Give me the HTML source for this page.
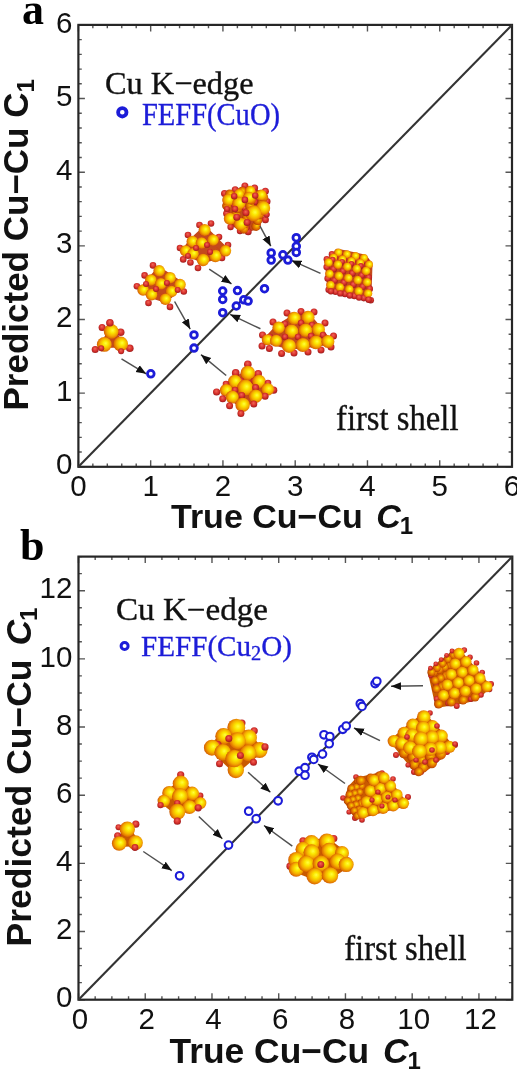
<!DOCTYPE html>
<html><head><meta charset="utf-8"><style>
html,body{margin:0;padding:0;background:#fff;}
svg{display:block;}
.tk{font-family:"Liberation Sans",Arial,sans-serif;font-size:29.5px;fill:#111;}
.lab{font-family:"Liberation Sans",Arial,sans-serif;font-size:33px;font-weight:bold;fill:#111;}
.ser{font-family:"Liberation Serif","Times New Roman",serif;font-size:32px;fill:#111;stroke:#111;stroke-width:0.35px;}
.pl{font-family:"Liberation Serif","Times New Roman",serif;font-size:44px;font-weight:bold;fill:#000;}
</style></head><body>
<svg width="520" height="1072" viewBox="0 0 520 1072">
<defs>
<radialGradient id="cu" cx="0.55" cy="0.48" r="0.58" fx="0.6" fy="0.42"><stop offset="0" stop-color="#ffff40"/><stop offset="0.3" stop-color="#fbe600"/><stop offset="0.62" stop-color="#f4ac00"/><stop offset="0.88" stop-color="#de6c00"/><stop offset="1" stop-color="#b44600"/></radialGradient>
<radialGradient id="cd" cx="0.55" cy="0.48" r="0.58" fx="0.6" fy="0.42"><stop offset="0" stop-color="#f8d800"/><stop offset="0.3" stop-color="#f0a000"/><stop offset="0.7" stop-color="#d86000"/><stop offset="1" stop-color="#a03800"/></radialGradient>
<radialGradient id="ox" cx="0.5" cy="0.45" r="0.6" fx="0.45" fy="0.35"><stop offset="0" stop-color="#f06858"/><stop offset="0.55" stop-color="#d8302c"/><stop offset="1" stop-color="#901818"/></radialGradient>
<marker id="ah" viewBox="0 0 10 10" refX="10" refY="5" markerWidth="10" markerHeight="10" markerUnits="userSpaceOnUse" orient="auto"><path d="M0 1L10 5L0 9z" fill="#111"/></marker>
<filter id="sf" x="-10%" y="-10%" width="120%" height="120%"><feGaussianBlur stdDeviation="0.4"/></filter>
</defs>
<path d="M78.40 466.80v-6.5M78.40 24.90v6.5M78.40 466.80h6.5M512.00 466.80h-6.5M92.85 466.80v-3.4M92.85 24.90v3.4M78.40 452.07h3.4M512.00 452.07h-3.4M107.31 466.80v-3.4M107.31 24.90v3.4M78.40 437.34h3.4M512.00 437.34h-3.4M121.76 466.80v-3.4M121.76 24.90v3.4M78.40 422.61h3.4M512.00 422.61h-3.4M136.21 466.80v-3.4M136.21 24.90v3.4M78.40 407.88h3.4M512.00 407.88h-3.4M150.67 466.80v-6.5M150.67 24.90v6.5M78.40 393.15h6.5M512.00 393.15h-6.5M165.12 466.80v-3.4M165.12 24.90v3.4M78.40 378.42h3.4M512.00 378.42h-3.4M179.57 466.80v-3.4M179.57 24.90v3.4M78.40 363.69h3.4M512.00 363.69h-3.4M194.03 466.80v-3.4M194.03 24.90v3.4M78.40 348.96h3.4M512.00 348.96h-3.4M208.48 466.80v-3.4M208.48 24.90v3.4M78.40 334.23h3.4M512.00 334.23h-3.4M222.93 466.80v-6.5M222.93 24.90v6.5M78.40 319.50h6.5M512.00 319.50h-6.5M237.39 466.80v-3.4M237.39 24.90v3.4M78.40 304.77h3.4M512.00 304.77h-3.4M251.84 466.80v-3.4M251.84 24.90v3.4M78.40 290.04h3.4M512.00 290.04h-3.4M266.29 466.80v-3.4M266.29 24.90v3.4M78.40 275.31h3.4M512.00 275.31h-3.4M280.75 466.80v-3.4M280.75 24.90v3.4M78.40 260.58h3.4M512.00 260.58h-3.4M295.20 466.80v-6.5M295.20 24.90v6.5M78.40 245.85h6.5M512.00 245.85h-6.5M309.65 466.80v-3.4M309.65 24.90v3.4M78.40 231.12h3.4M512.00 231.12h-3.4M324.11 466.80v-3.4M324.11 24.90v3.4M78.40 216.39h3.4M512.00 216.39h-3.4M338.56 466.80v-3.4M338.56 24.90v3.4M78.40 201.66h3.4M512.00 201.66h-3.4M353.01 466.80v-3.4M353.01 24.90v3.4M78.40 186.93h3.4M512.00 186.93h-3.4M367.47 466.80v-6.5M367.47 24.90v6.5M78.40 172.20h6.5M512.00 172.20h-6.5M381.92 466.80v-3.4M381.92 24.90v3.4M78.40 157.47h3.4M512.00 157.47h-3.4M396.37 466.80v-3.4M396.37 24.90v3.4M78.40 142.74h3.4M512.00 142.74h-3.4M410.83 466.80v-3.4M410.83 24.90v3.4M78.40 128.01h3.4M512.00 128.01h-3.4M425.28 466.80v-3.4M425.28 24.90v3.4M78.40 113.28h3.4M512.00 113.28h-3.4M439.73 466.80v-6.5M439.73 24.90v6.5M78.40 98.55h6.5M512.00 98.55h-6.5M454.19 466.80v-3.4M454.19 24.90v3.4M78.40 83.82h3.4M512.00 83.82h-3.4M468.64 466.80v-3.4M468.64 24.90v3.4M78.40 69.09h3.4M512.00 69.09h-3.4M483.09 466.80v-3.4M483.09 24.90v3.4M78.40 54.36h3.4M512.00 54.36h-3.4M497.55 466.80v-3.4M497.55 24.90v3.4M78.40 39.63h3.4M512.00 39.63h-3.4M512.00 466.80v-6.5M512.00 24.90v6.5M78.40 24.90h6.5M512.00 24.90h-6.5" stroke="#555" stroke-width="1.4" fill="none"/>
<rect x="78.4" y="24.9" width="433.60" height="441.90" fill="none" stroke="#262626" stroke-width="2.2"/>
<line x1="78.4" y1="466.8" x2="512.0" y2="24.9" stroke="#333" stroke-width="2.1"/>
<text class="tk" x="78.4" y="496" text-anchor="middle">0</text>
<text class="tk" x="72.3" y="474.4" text-anchor="end">0</text>
<text class="tk" x="150.7" y="496" text-anchor="middle">1</text>
<text class="tk" x="72.3" y="400.8" text-anchor="end">1</text>
<text class="tk" x="222.9" y="496" text-anchor="middle">2</text>
<text class="tk" x="72.3" y="327.1" text-anchor="end">2</text>
<text class="tk" x="295.2" y="496" text-anchor="middle">3</text>
<text class="tk" x="72.3" y="253.4" text-anchor="end">3</text>
<text class="tk" x="367.5" y="496" text-anchor="middle">4</text>
<text class="tk" x="72.3" y="179.8" text-anchor="end">4</text>
<text class="tk" x="439.7" y="496" text-anchor="middle">5</text>
<text class="tk" x="72.3" y="106.2" text-anchor="end">5</text>
<text class="tk" x="512.0" y="496" text-anchor="middle">6</text>
<text class="tk" x="72.3" y="32.5" text-anchor="end">6</text>
<path d="M78.50 999.70v-6.5M78.50 556.60v6.5M78.50 999.70h6.5M512.30 999.70h-6.5M95.18 999.70v-3.4M95.18 556.60v3.4M78.50 982.66h3.4M512.30 982.66h-3.4M111.87 999.70v-3.4M111.87 556.60v3.4M78.50 965.62h3.4M512.30 965.62h-3.4M128.55 999.70v-3.4M128.55 556.60v3.4M78.50 948.57h3.4M512.30 948.57h-3.4M145.24 999.70v-6.5M145.24 556.60v6.5M78.50 931.53h6.5M512.30 931.53h-6.5M161.92 999.70v-3.4M161.92 556.60v3.4M78.50 914.49h3.4M512.30 914.49h-3.4M178.61 999.70v-3.4M178.61 556.60v3.4M78.50 897.45h3.4M512.30 897.45h-3.4M195.29 999.70v-3.4M195.29 556.60v3.4M78.50 880.40h3.4M512.30 880.40h-3.4M211.98 999.70v-6.5M211.98 556.60v6.5M78.50 863.36h6.5M512.30 863.36h-6.5M228.66 999.70v-3.4M228.66 556.60v3.4M78.50 846.32h3.4M512.30 846.32h-3.4M245.35 999.70v-3.4M245.35 556.60v3.4M78.50 829.28h3.4M512.30 829.28h-3.4M262.03 999.70v-3.4M262.03 556.60v3.4M78.50 812.23h3.4M512.30 812.23h-3.4M278.72 999.70v-6.5M278.72 556.60v6.5M78.50 795.19h6.5M512.30 795.19h-6.5M295.40 999.70v-3.4M295.40 556.60v3.4M78.50 778.15h3.4M512.30 778.15h-3.4M312.08 999.70v-3.4M312.08 556.60v3.4M78.50 761.11h3.4M512.30 761.11h-3.4M328.77 999.70v-3.4M328.77 556.60v3.4M78.50 744.07h3.4M512.30 744.07h-3.4M345.45 999.70v-6.5M345.45 556.60v6.5M78.50 727.02h6.5M512.30 727.02h-6.5M362.14 999.70v-3.4M362.14 556.60v3.4M78.50 709.98h3.4M512.30 709.98h-3.4M378.82 999.70v-3.4M378.82 556.60v3.4M78.50 692.94h3.4M512.30 692.94h-3.4M395.51 999.70v-3.4M395.51 556.60v3.4M78.50 675.90h3.4M512.30 675.90h-3.4M412.19 999.70v-6.5M412.19 556.60v6.5M78.50 658.85h6.5M512.30 658.85h-6.5M428.88 999.70v-3.4M428.88 556.60v3.4M78.50 641.81h3.4M512.30 641.81h-3.4M445.56 999.70v-3.4M445.56 556.60v3.4M78.50 624.77h3.4M512.30 624.77h-3.4M462.25 999.70v-3.4M462.25 556.60v3.4M78.50 607.73h3.4M512.30 607.73h-3.4M478.93 999.70v-6.5M478.93 556.60v6.5M78.50 590.68h6.5M512.30 590.68h-6.5M495.62 999.70v-3.4M495.62 556.60v3.4M78.50 573.64h3.4M512.30 573.64h-3.4M512.30 999.70v-3.4M512.30 556.60v3.4M78.50 556.60h3.4M512.30 556.60h-3.4" stroke="#555" stroke-width="1.4" fill="none"/>
<rect x="78.5" y="556.6" width="433.80" height="443.10" fill="none" stroke="#262626" stroke-width="2.2"/>
<line x1="78.5" y1="999.7" x2="512.3" y2="556.6" stroke="#333" stroke-width="2.1"/>
<text class="tk" x="80.0" y="1028.5" text-anchor="middle">0</text>
<text class="tk" x="72.3" y="1007.3" text-anchor="end">0</text>
<text class="tk" x="146.7" y="1028.5" text-anchor="middle">2</text>
<text class="tk" x="72.3" y="939.1" text-anchor="end">2</text>
<text class="tk" x="213.5" y="1028.5" text-anchor="middle">4</text>
<text class="tk" x="72.3" y="871.0" text-anchor="end">4</text>
<text class="tk" x="280.2" y="1028.5" text-anchor="middle">6</text>
<text class="tk" x="72.3" y="802.8" text-anchor="end">6</text>
<text class="tk" x="347.0" y="1028.5" text-anchor="middle">8</text>
<text class="tk" x="72.3" y="734.6" text-anchor="end">8</text>
<text class="tk" x="413.7" y="1028.5" text-anchor="middle">10</text>
<text class="tk" x="72.3" y="666.5" text-anchor="end">10</text>
<text class="tk" x="480.4" y="1028.5" text-anchor="middle">12</text>
<text class="tk" x="72.3" y="598.3" text-anchor="end">12</text>
<text class="pl" x="22" y="24">a</text>
<text class="pl" x="20" y="560">b</text>
<text class="lab" x="171" y="528" style="font-size:34px">True Cu−Cu <tspan font-style="italic" dx="4">C</tspan><tspan font-size="24" dy="6" dx="-1">1</tspan></text>
<text class="lab" x="169.5" y="1063" style="font-size:35.4px">True Cu−Cu <tspan font-style="italic" dx="4">C</tspan><tspan font-size="24" dy="6" dx="-1">1</tspan></text>
<text class="lab" style="font-size:35px" transform="translate(27.5,410.5) rotate(-90)">Predicted Cu−Cu C<tspan font-size="24" dy="6">1</tspan></text>
<text class="lab" style="font-size:35.5px" transform="translate(31,946.5) rotate(-90)">Predicted Cu−Cu <tspan font-style="italic" dx="4">C</tspan><tspan font-size="24" dy="6" dx="-1">1</tspan></text>
<text class="ser" x="105" y="93.5" textLength="148.5" lengthAdjust="spacingAndGlyphs">Cu K−edge</text>
<text class="ser" x="142" y="125.3" textLength="138" lengthAdjust="spacingAndGlyphs" style="fill:#1c1cd8;font-size:31px;stroke:#1c1cd8;stroke-width:0.35px">FEFF(CuO)</text>
<text class="ser" x="336" y="430.3" textLength="122.5" lengthAdjust="spacingAndGlyphs" style="font-size:36px">first shell</text>
<text class="ser" x="344.2" y="959.6" textLength="122.5" lengthAdjust="spacingAndGlyphs" style="font-size:36px">first shell</text>
<text class="ser" x="116" y="620.1" textLength="152" lengthAdjust="spacingAndGlyphs" style="font-size:31px">Cu K−edge</text>
<text class="ser" x="141" y="655.5" textLength="151" lengthAdjust="spacingAndGlyphs" style="fill:#1c1cd8;font-size:30px;stroke:#1c1cd8;stroke-width:0.35px">FEFF(Cu<tspan font-size="21" dy="4">2</tspan><tspan dy="-4">O)</tspan></text>
<circle cx="122.3" cy="112.3" r="4.2" fill="none" stroke="#1c1cd8" stroke-width="3.8"/>
<circle cx="124.6" cy="646" r="3.5" fill="none" stroke="#1c1cd8" stroke-width="3.0"/>
<g filter="url(#sf)">
<polygon points="104.3,344.4 111.2,331.4 120.7,344" fill="#c4481a" stroke="#c4481a" stroke-width="7" stroke-linejoin="round"/>
<circle cx="102.1" cy="327.5" r="3.5" fill="url(#ox)"/>
<circle cx="120.7" cy="332.3" r="3.8" fill="url(#ox)"/>
<circle cx="95.2" cy="349.6" r="3.5" fill="url(#ox)"/>
<circle cx="129.8" cy="348.3" r="3.8" fill="url(#ox)"/>
<circle cx="111.2" cy="331.4" r="7.4" fill="url(#cu)"/>
<circle cx="104.3" cy="344.4" r="7.4" fill="url(#cu)"/>
<circle cx="120.7" cy="344.0" r="7.4" fill="url(#cu)"/>
<circle cx="109.9" cy="322.8" r="3.8" fill="url(#ox)"/>
<circle cx="101.2" cy="348.3" r="3" fill="url(#ox)"/>
<circle cx="121.1" cy="351.3" r="3" fill="url(#ox)"/>
</g>
<g filter="url(#sf)">
<polygon points="143.1,290 150.8,280 159.2,270.8 170,277.7 180,284.6 165.4,299.2 151.5,294.6" fill="#c4481a" stroke="#c4481a" stroke-width="7" stroke-linejoin="round"/>
<circle cx="153.0" cy="265.4" r="3.3" fill="url(#ox)"/>
<circle cx="144.6" cy="275.4" r="3.3" fill="url(#ox)"/>
<circle cx="136.9" cy="286.2" r="3.3" fill="url(#ox)"/>
<circle cx="148.5" cy="303.0" r="3.3" fill="url(#ox)"/>
<circle cx="170.0" cy="306.9" r="3.3" fill="url(#ox)"/>
<circle cx="183.8" cy="291.5" r="3.3" fill="url(#ox)"/>
<circle cx="159.2" cy="270.8" r="5.8" fill="url(#cu)"/>
<circle cx="150.8" cy="280.0" r="5.8" fill="url(#cu)"/>
<circle cx="170.0" cy="277.7" r="5.8" fill="url(#cu)"/>
<circle cx="143.1" cy="290.0" r="5.8" fill="url(#cu)"/>
<circle cx="160.8" cy="283.8" r="5.8" fill="url(#cu)"/>
<circle cx="180.0" cy="284.6" r="5.8" fill="url(#cu)"/>
<circle cx="151.5" cy="294.6" r="5.8" fill="url(#cu)"/>
<circle cx="171.5" cy="291.5" r="5.8" fill="url(#cu)"/>
<circle cx="165.4" cy="299.2" r="5.8" fill="url(#cu)"/>
<circle cx="166.9" cy="283.0" r="3" fill="url(#ox)"/>
<circle cx="177.7" cy="290.0" r="3" fill="url(#ox)"/>
<circle cx="156.0" cy="289.0" r="3" fill="url(#ox)"/>
<circle cx="146.0" cy="284.0" r="3" fill="url(#ox)"/>
</g>
<g filter="url(#sf)">
<polygon points="185.4,250.8 192.3,241.5 204.6,230 225.4,250.8 215.4,256 203,260" fill="#c4481a" stroke="#c4481a" stroke-width="7" stroke-linejoin="round"/>
<circle cx="199.5" cy="225.0" r="3.3" fill="url(#ox)"/>
<circle cx="211.0" cy="223.5" r="3.3" fill="url(#ox)"/>
<circle cx="188.0" cy="235.0" r="3.3" fill="url(#ox)"/>
<circle cx="219.0" cy="237.0" r="3.3" fill="url(#ox)"/>
<circle cx="180.0" cy="248.0" r="3.3" fill="url(#ox)"/>
<circle cx="228.0" cy="245.0" r="3.3" fill="url(#ox)"/>
<circle cx="183.2" cy="259.4" r="3.3" fill="url(#ox)"/>
<circle cx="190.4" cy="262.5" r="3.3" fill="url(#ox)"/>
<circle cx="198.0" cy="268.0" r="3.3" fill="url(#ox)"/>
<circle cx="222.0" cy="258.0" r="3.3" fill="url(#ox)"/>
<circle cx="204.6" cy="230.0" r="6" fill="url(#cu)"/>
<circle cx="192.3" cy="241.5" r="5.8" fill="url(#cu)"/>
<circle cx="201.5" cy="243.0" r="5.8" fill="url(#cu)"/>
<circle cx="213.0" cy="240.0" r="5.8" fill="url(#cu)"/>
<circle cx="185.4" cy="250.8" r="5.6" fill="url(#cu)"/>
<circle cx="193.0" cy="253.8" r="5.8" fill="url(#cu)"/>
<circle cx="203.0" cy="260.0" r="6.2" fill="url(#cu)"/>
<circle cx="215.4" cy="256.0" r="6.2" fill="url(#cu)"/>
<circle cx="225.4" cy="250.8" r="5.8" fill="url(#cu)"/>
<circle cx="207.0" cy="245.0" r="3" fill="url(#ox)"/>
<circle cx="196.0" cy="248.0" r="3" fill="url(#ox)"/>
<circle cx="210.0" cy="252.0" r="3" fill="url(#ox)"/>
<circle cx="188.0" cy="256.0" r="3" fill="url(#ox)"/>
</g>
<g filter="url(#sf)">
<polygon points="226.7,205.7 229.7,194.1 242.0,191.3 250.3,190.8 261.1,195.1 263.6,197.3 263.2,208 256.1,226.3 243.8,229.1 229.8,218.8" fill="#c4481a" stroke="#c4481a" stroke-width="7" stroke-linejoin="round"/>
<circle cx="224.5" cy="193.5" r="3.5" fill="url(#ox)"/>
<circle cx="235.2" cy="189.7" r="3.5" fill="url(#ox)"/>
<circle cx="244.9" cy="185.9" r="3.5" fill="url(#ox)"/>
<circle cx="254.6" cy="188.1" r="3.5" fill="url(#ox)"/>
<circle cx="265.4" cy="191.3" r="3.5" fill="url(#ox)"/>
<circle cx="267.0" cy="201.5" r="3.5" fill="url(#ox)"/>
<circle cx="226.6" cy="213.4" r="3.5" fill="url(#ox)"/>
<circle cx="248.2" cy="231.7" r="3.5" fill="url(#ox)"/>
<circle cx="257.3" cy="225.8" r="3.5" fill="url(#ox)"/>
<circle cx="265.4" cy="219.8" r="3.5" fill="url(#ox)"/>
<circle cx="230.6" cy="227.0" r="3.2" fill="url(#ox)"/>
<circle cx="240.0" cy="231.0" r="3.2" fill="url(#ox)"/>
<circle cx="233.5" cy="196.0" r="3.1" fill="url(#ox)"/>
<circle cx="234.3" cy="205.5" r="3.1" fill="url(#ox)"/>
<circle cx="235.1" cy="215.0" r="3.1" fill="url(#ox)"/>
<circle cx="235.9" cy="224.5" r="3.1" fill="url(#ox)"/>
<circle cx="243.5" cy="189.5" r="3.1" fill="url(#ox)"/>
<circle cx="244.3" cy="199.0" r="3.1" fill="url(#ox)"/>
<circle cx="245.1" cy="208.5" r="3.1" fill="url(#ox)"/>
<circle cx="245.9" cy="218.0" r="3.1" fill="url(#ox)"/>
<circle cx="246.7" cy="227.5" r="3.1" fill="url(#ox)"/>
<circle cx="254.3" cy="192.5" r="3.1" fill="url(#ox)"/>
<circle cx="255.1" cy="202.0" r="3.1" fill="url(#ox)"/>
<circle cx="255.9" cy="211.5" r="3.1" fill="url(#ox)"/>
<circle cx="256.7" cy="221.0" r="3.1" fill="url(#ox)"/>
<circle cx="265.9" cy="205.0" r="3.1" fill="url(#ox)"/>
<circle cx="266.7" cy="214.5" r="3.1" fill="url(#ox)"/>
<circle cx="226.7" cy="205.7" r="4.6" fill="url(#cd)"/>
<circle cx="228.2" cy="199.9" r="4.6" fill="url(#cd)"/>
<circle cx="229.7" cy="194.1" r="4.6" fill="url(#cd)"/>
<circle cx="234.5" cy="220.3" r="4.6" fill="url(#cd)"/>
<circle cx="236.0" cy="214.5" r="4.6" fill="url(#cd)"/>
<circle cx="237.5" cy="208.7" r="4.6" fill="url(#cd)"/>
<circle cx="239.0" cy="202.9" r="4.6" fill="url(#cd)"/>
<circle cx="240.5" cy="197.1" r="4.6" fill="url(#cd)"/>
<circle cx="242.0" cy="191.3" r="4.6" fill="url(#cd)"/>
<circle cx="243.8" cy="229.1" r="4.6" fill="url(#cd)"/>
<circle cx="245.3" cy="223.3" r="4.6" fill="url(#cd)"/>
<circle cx="246.8" cy="217.5" r="4.6" fill="url(#cd)"/>
<circle cx="248.3" cy="211.7" r="4.6" fill="url(#cd)"/>
<circle cx="249.8" cy="205.9" r="4.6" fill="url(#cd)"/>
<circle cx="251.3" cy="200.1" r="4.6" fill="url(#cd)"/>
<circle cx="252.8" cy="194.3" r="4.6" fill="url(#cd)"/>
<circle cx="256.1" cy="226.3" r="4.6" fill="url(#cd)"/>
<circle cx="257.6" cy="220.5" r="4.6" fill="url(#cd)"/>
<circle cx="259.1" cy="214.7" r="4.6" fill="url(#cd)"/>
<circle cx="260.6" cy="208.9" r="4.6" fill="url(#cd)"/>
<circle cx="262.1" cy="203.1" r="4.6" fill="url(#cd)"/>
<circle cx="263.6" cy="197.3" r="4.6" fill="url(#cd)"/>
<circle cx="239.0" cy="194.0" r="5" fill="url(#cu)"/>
<circle cx="250.3" cy="190.8" r="5" fill="url(#cu)"/>
<circle cx="228.2" cy="199.9" r="6" fill="url(#cu)"/>
<circle cx="249.2" cy="197.8" r="6" fill="url(#cu)"/>
<circle cx="261.1" cy="195.1" r="5.5" fill="url(#cu)"/>
<circle cx="239.0" cy="203.2" r="6.5" fill="url(#cu)"/>
<circle cx="244.9" cy="199.9" r="3.3" fill="url(#ox)"/>
<circle cx="234.2" cy="196.2" r="3.2" fill="url(#ox)"/>
<circle cx="255.2" cy="195.6" r="3.2" fill="url(#ox)"/>
<circle cx="229.8" cy="218.8" r="6" fill="url(#cu)"/>
<circle cx="240.6" cy="224.2" r="6.5" fill="url(#cu)"/>
<circle cx="263.2" cy="208.0" r="7" fill="url(#cu)"/>
<circle cx="253.5" cy="213.4" r="8" fill="url(#cu)"/>
<circle cx="246.0" cy="212.8" r="3.5" fill="url(#ox)"/>
<circle cx="236.8" cy="217.2" r="3.5" fill="url(#ox)"/>
<circle cx="247.1" cy="222.5" r="3.5" fill="url(#ox)"/>
<circle cx="235.0" cy="209.0" r="3.2" fill="url(#ox)"/>
<circle cx="227.0" cy="209.0" r="3" fill="url(#ox)"/>
</g>
<g filter="url(#sf)">
<polygon points="328.4,262.5 338.2,252.5 346.8,254.3 363.9,257.9 369.0,264.6 368.0,293.5 330.4,285.1" fill="#c4481a" stroke="#c4481a" stroke-width="7" stroke-linejoin="round"/>
<circle cx="340.0" cy="255.9" r="3.2" fill="url(#ox)"/>
<circle cx="348.6" cy="257.7" r="3.2" fill="url(#ox)"/>
<circle cx="357.1" cy="259.5" r="3.2" fill="url(#ox)"/>
<circle cx="365.7" cy="261.2" r="3.2" fill="url(#ox)"/>
<circle cx="331.9" cy="254.2" r="3.2" fill="url(#ox)"/>
<circle cx="338.2" cy="252.5" r="4.0" fill="url(#cu)"/>
<circle cx="346.8" cy="254.3" r="4.0" fill="url(#cu)"/>
<circle cx="355.3" cy="256.1" r="4.0" fill="url(#cu)"/>
<circle cx="363.9" cy="257.9" r="4.0" fill="url(#cu)"/>
<circle cx="335.3" cy="260.9" r="3.2" fill="url(#ox)"/>
<circle cx="344.2" cy="262.7" r="3.2" fill="url(#ox)"/>
<circle cx="353.2" cy="264.5" r="3.2" fill="url(#ox)"/>
<circle cx="362.1" cy="266.2" r="3.2" fill="url(#ox)"/>
<circle cx="326.8" cy="259.2" r="3.2" fill="url(#ox)"/>
<circle cx="333.3" cy="257.5" r="4.0" fill="url(#cu)"/>
<circle cx="342.2" cy="259.3" r="4.0" fill="url(#cu)"/>
<circle cx="351.2" cy="261.1" r="4.0" fill="url(#cu)"/>
<circle cx="360.1" cy="262.9" r="4.0" fill="url(#cu)"/>
<circle cx="369.0" cy="264.6" r="4.0" fill="url(#cu)"/>
<circle cx="326.7" cy="267.1" r="3.3" fill="url(#ox)"/>
<circle cx="333.6" cy="269.2" r="3.3" fill="url(#ox)"/>
<circle cx="343.0" cy="271.3" r="3.3" fill="url(#ox)"/>
<circle cx="352.4" cy="273.4" r="3.3" fill="url(#ox)"/>
<circle cx="361.8" cy="275.5" r="3.3" fill="url(#ox)"/>
<circle cx="368.7" cy="277.6" r="3.3" fill="url(#ox)"/>
<circle cx="327.7" cy="278.4" r="3.3" fill="url(#ox)"/>
<circle cx="334.6" cy="280.5" r="3.3" fill="url(#ox)"/>
<circle cx="344.0" cy="282.6" r="3.3" fill="url(#ox)"/>
<circle cx="353.4" cy="284.7" r="3.3" fill="url(#ox)"/>
<circle cx="362.8" cy="286.8" r="3.3" fill="url(#ox)"/>
<circle cx="369.7" cy="288.9" r="3.3" fill="url(#ox)"/>
<circle cx="328.7" cy="289.7" r="3.3" fill="url(#ox)"/>
<circle cx="335.6" cy="291.8" r="3.3" fill="url(#ox)"/>
<circle cx="345.0" cy="293.9" r="3.3" fill="url(#ox)"/>
<circle cx="354.4" cy="296.0" r="3.3" fill="url(#ox)"/>
<circle cx="363.8" cy="298.1" r="3.3" fill="url(#ox)"/>
<circle cx="370.7" cy="300.2" r="3.3" fill="url(#ox)"/>
<circle cx="332.7" cy="259.6" r="2.8" fill="url(#ox)"/>
<circle cx="342.1" cy="261.7" r="2.8" fill="url(#ox)"/>
<circle cx="351.5" cy="263.8" r="2.8" fill="url(#ox)"/>
<circle cx="360.9" cy="265.9" r="2.8" fill="url(#ox)"/>
<circle cx="328.4" cy="262.5" r="4.3" fill="url(#cu)"/>
<circle cx="337.8" cy="264.6" r="4.3" fill="url(#cu)"/>
<circle cx="347.2" cy="266.7" r="4.3" fill="url(#cu)"/>
<circle cx="356.6" cy="268.8" r="4.3" fill="url(#cu)"/>
<circle cx="366.0" cy="270.9" r="4.3" fill="url(#cu)"/>
<circle cx="329.4" cy="273.8" r="4.3" fill="url(#cu)"/>
<circle cx="338.8" cy="275.9" r="4.3" fill="url(#cu)"/>
<circle cx="348.2" cy="278.0" r="4.3" fill="url(#cu)"/>
<circle cx="357.6" cy="280.1" r="4.3" fill="url(#cu)"/>
<circle cx="367.0" cy="282.2" r="4.3" fill="url(#cu)"/>
<circle cx="330.4" cy="285.1" r="4.3" fill="url(#cu)"/>
<circle cx="339.8" cy="287.2" r="4.3" fill="url(#cu)"/>
<circle cx="349.2" cy="289.3" r="4.3" fill="url(#cu)"/>
<circle cx="358.6" cy="291.4" r="4.3" fill="url(#cu)"/>
<circle cx="368.0" cy="293.5" r="4.3" fill="url(#cu)"/>
<circle cx="330.9" cy="291.3" r="3.2" fill="url(#ox)"/>
<circle cx="340.3" cy="293.4" r="3.2" fill="url(#ox)"/>
<circle cx="349.8" cy="295.5" r="3.2" fill="url(#ox)"/>
<circle cx="359.1" cy="297.6" r="3.2" fill="url(#ox)"/>
<circle cx="368.6" cy="299.7" r="3.2" fill="url(#ox)"/>
</g>
<g filter="url(#sf)">
<polygon points="267.3,339.8 278.6,327.7 294.1,318.2 308,317.3 318.4,329.4 327.9,341.5 302.8,345 289,345.9" fill="#c4481a" stroke="#c4481a" stroke-width="7" stroke-linejoin="round"/>
<circle cx="287.0" cy="313.0" r="3.5" fill="url(#ox)"/>
<circle cx="301.0" cy="311.5" r="3.5" fill="url(#ox)"/>
<circle cx="314.0" cy="312.0" r="3.5" fill="url(#ox)"/>
<circle cx="273.0" cy="322.0" r="3.5" fill="url(#ox)"/>
<circle cx="325.0" cy="323.0" r="3.5" fill="url(#ox)"/>
<circle cx="262.5" cy="335.0" r="3.5" fill="url(#ox)"/>
<circle cx="333.5" cy="336.0" r="3.5" fill="url(#ox)"/>
<circle cx="262.0" cy="346.0" r="3.5" fill="url(#ox)"/>
<circle cx="269.4" cy="348.5" r="3.5" fill="url(#ox)"/>
<circle cx="281.6" cy="353.4" r="3.5" fill="url(#ox)"/>
<circle cx="294.0" cy="353.0" r="3.5" fill="url(#ox)"/>
<circle cx="308.0" cy="352.0" r="3.5" fill="url(#ox)"/>
<circle cx="321.0" cy="350.0" r="3.5" fill="url(#ox)"/>
<circle cx="331.0" cy="347.0" r="3.5" fill="url(#ox)"/>
<circle cx="294.1" cy="318.2" r="6.5" fill="url(#cu)"/>
<circle cx="308.0" cy="317.3" r="6.5" fill="url(#cu)"/>
<circle cx="301.0" cy="323.0" r="3.2" fill="url(#ox)"/>
<circle cx="285.0" cy="324.0" r="3.2" fill="url(#ox)"/>
<circle cx="312.0" cy="325.0" r="3.2" fill="url(#ox)"/>
<circle cx="278.6" cy="327.7" r="6.2" fill="url(#cu)"/>
<circle cx="291.5" cy="331.2" r="6.8" fill="url(#cu)"/>
<circle cx="305.4" cy="330.3" r="6.8" fill="url(#cu)"/>
<circle cx="318.4" cy="329.4" r="6.5" fill="url(#cu)"/>
<circle cx="298.0" cy="337.0" r="3.2" fill="url(#ox)"/>
<circle cx="285.0" cy="337.0" r="3.2" fill="url(#ox)"/>
<circle cx="311.0" cy="336.0" r="3.2" fill="url(#ox)"/>
<circle cx="323.0" cy="335.0" r="3.2" fill="url(#ox)"/>
<circle cx="270.0" cy="337.0" r="3.2" fill="url(#ox)"/>
<circle cx="267.3" cy="339.8" r="5.5" fill="url(#cu)"/>
<circle cx="276.0" cy="340.7" r="6" fill="url(#cu)"/>
<circle cx="289.0" cy="345.9" r="7" fill="url(#cu)"/>
<circle cx="302.8" cy="345.0" r="7" fill="url(#cu)"/>
<circle cx="315.8" cy="342.4" r="6.8" fill="url(#cu)"/>
<circle cx="327.9" cy="341.5" r="6.5" fill="url(#cu)"/>
</g>
<g filter="url(#sf)">
<polygon points="226.2,390.2 234.8,381.5 247.8,372.9 259,381.5 267.7,389.3 242.6,404.9 232.2,397.1" fill="#c4481a" stroke="#c4481a" stroke-width="7" stroke-linejoin="round"/>
<circle cx="247.8" cy="364.2" r="3.8" fill="url(#ox)"/>
<circle cx="235.7" cy="372.9" r="3.8" fill="url(#ox)"/>
<circle cx="258.2" cy="373.7" r="3.8" fill="url(#ox)"/>
<circle cx="216.6" cy="392.0" r="3.6" fill="url(#ox)"/>
<circle cx="273.7" cy="390.2" r="3.6" fill="url(#ox)"/>
<circle cx="247.8" cy="372.9" r="7.2" fill="url(#cu)"/>
<circle cx="241.0" cy="381.0" r="3.3" fill="url(#ox)"/>
<circle cx="254.0" cy="381.0" r="3.3" fill="url(#ox)"/>
<circle cx="234.8" cy="381.5" r="6.8" fill="url(#cu)"/>
<circle cx="259.0" cy="381.5" r="6.8" fill="url(#cu)"/>
<circle cx="226.0" cy="384.0" r="3.3" fill="url(#ox)"/>
<circle cx="268.0" cy="383.0" r="3.3" fill="url(#ox)"/>
<circle cx="226.2" cy="390.2" r="6.3" fill="url(#cu)"/>
<circle cx="267.7" cy="389.3" r="6.3" fill="url(#cu)"/>
<circle cx="245.2" cy="387.6" r="8" fill="url(#cu)"/>
<circle cx="241.7" cy="395.4" r="3.5" fill="url(#ox)"/>
<circle cx="255.6" cy="387.6" r="3.5" fill="url(#ox)"/>
<circle cx="235.0" cy="390.0" r="3.3" fill="url(#ox)"/>
<circle cx="222.7" cy="398.8" r="3.5" fill="url(#ox)"/>
<circle cx="265.1" cy="396.2" r="3.5" fill="url(#ox)"/>
<circle cx="232.2" cy="397.1" r="6.5" fill="url(#cu)"/>
<circle cx="255.6" cy="396.2" r="6.8" fill="url(#cu)"/>
<circle cx="229.6" cy="405.8" r="3.5" fill="url(#ox)"/>
<circle cx="253.8" cy="404.0" r="3.5" fill="url(#ox)"/>
<circle cx="242.6" cy="404.9" r="7.2" fill="url(#cu)"/>
<circle cx="240.9" cy="413.6" r="3.5" fill="url(#ox)"/>
</g>
<g filter="url(#sf)">
<polygon points="119.2,843.5 127.3,829.2 135.4,842.7" fill="#c85a00" stroke="#c85a00" stroke-width="7" stroke-linejoin="round"/>
<circle cx="118.5" cy="827.3" r="3" fill="url(#ox)"/>
<circle cx="135.8" cy="824.2" r="3.6" fill="url(#ox)"/>
<circle cx="117.7" cy="835.8" r="3.6" fill="url(#ox)"/>
<circle cx="127.3" cy="829.2" r="7.7" fill="url(#cu)"/>
<circle cx="119.2" cy="843.5" r="7.3" fill="url(#cu)"/>
<circle cx="135.4" cy="842.7" r="7.5" fill="url(#cu)"/>
<circle cx="135.0" cy="847.5" r="3.4" fill="url(#ox)"/>
</g>
<g filter="url(#sf)">
<polygon points="163.8,801 169.2,793 180.7,783.6 192.1,793.6 200.2,803.1 177.3,811.8" fill="#c85a00" stroke="#c85a00" stroke-width="7" stroke-linejoin="round"/>
<circle cx="180.7" cy="774.8" r="3.6" fill="url(#ox)"/>
<circle cx="200.2" cy="795.7" r="3.2" fill="url(#ox)"/>
<circle cx="180.7" cy="783.6" r="8" fill="url(#cu)"/>
<circle cx="169.2" cy="793.0" r="7" fill="url(#cu)"/>
<circle cx="192.1" cy="793.6" r="7" fill="url(#cu)"/>
<circle cx="163.8" cy="801.0" r="6.2" fill="url(#cu)"/>
<circle cx="200.2" cy="803.1" r="6.2" fill="url(#cu)"/>
<circle cx="180.0" cy="796.3" r="8" fill="url(#cu)"/>
<circle cx="160.5" cy="805.1" r="3.2" fill="url(#ox)"/>
<circle cx="177.3" cy="803.1" r="3.2" fill="url(#ox)"/>
<circle cx="189.4" cy="807.1" r="7" fill="url(#cu)"/>
<circle cx="177.3" cy="811.8" r="8" fill="url(#cu)"/>
<circle cx="198.2" cy="807.8" r="3.6" fill="url(#ox)"/>
<circle cx="177.3" cy="821.2" r="3.6" fill="url(#ox)"/>
</g>
<g filter="url(#sf)">
<polygon points="211.9,747.7 223.5,736.2 236.3,727.7 248.8,737.7 259.6,750 235.8,770" fill="#c85a00" stroke="#c85a00" stroke-width="7" stroke-linejoin="round"/>
<circle cx="241.9" cy="723.1" r="3.6" fill="url(#ox)"/>
<circle cx="254.2" cy="730.8" r="3.6" fill="url(#ox)"/>
<circle cx="236.3" cy="727.7" r="9" fill="url(#cu)"/>
<circle cx="223.5" cy="736.2" r="8.2" fill="url(#cu)"/>
<circle cx="248.8" cy="737.7" r="8.2" fill="url(#cu)"/>
<circle cx="218.0" cy="744.6" r="3.5" fill="url(#ox)"/>
<circle cx="211.9" cy="747.7" r="8" fill="url(#cu)"/>
<circle cx="259.6" cy="750.0" r="8" fill="url(#cu)"/>
<circle cx="237.3" cy="740.8" r="8.5" fill="url(#cu)"/>
<circle cx="228.8" cy="738.5" r="3.5" fill="url(#ox)"/>
<circle cx="265.0" cy="746.9" r="3.6" fill="url(#ox)"/>
<circle cx="222.7" cy="752.3" r="8.3" fill="url(#cu)"/>
<circle cx="248.1" cy="753.1" r="8.3" fill="url(#cu)"/>
<circle cx="219.5" cy="763.7" r="3.5" fill="url(#ox)"/>
<circle cx="253.5" cy="762.3" r="3.5" fill="url(#ox)"/>
<circle cx="235.8" cy="770.0" r="8.2" fill="url(#cu)"/>
<circle cx="234.2" cy="758.5" r="8.8" fill="url(#cu)"/>
<circle cx="240.4" cy="755.4" r="3.5" fill="url(#ox)"/>
</g>
<g filter="url(#sf)">
<polygon points="296.2,860 303,849.2 311.5,843.1 326.9,841.5 342,853 346.2,864.6 330,875.4 314.6,876.2 296.2,869.2" fill="#c85a00" stroke="#c85a00" stroke-width="7" stroke-linejoin="round"/>
<circle cx="303.0" cy="840.8" r="3.6" fill="url(#ox)"/>
<circle cx="333.8" cy="838.5" r="3.6" fill="url(#ox)"/>
<circle cx="290.0" cy="866.2" r="3.6" fill="url(#ox)"/>
<circle cx="347.7" cy="860.8" r="3.6" fill="url(#ox)"/>
<circle cx="311.5" cy="843.1" r="8" fill="url(#cu)"/>
<circle cx="326.9" cy="841.5" r="8" fill="url(#cu)"/>
<circle cx="303.0" cy="849.2" r="7.5" fill="url(#cu)"/>
<circle cx="311.5" cy="852.3" r="8" fill="url(#cu)"/>
<circle cx="329.2" cy="850.8" r="8" fill="url(#cu)"/>
<circle cx="342.0" cy="853.0" r="7" fill="url(#cu)"/>
<circle cx="296.2" cy="860.0" r="8" fill="url(#cu)"/>
<circle cx="296.2" cy="869.2" r="7.5" fill="url(#cu)"/>
<circle cx="337.7" cy="861.5" r="8" fill="url(#cu)"/>
<circle cx="346.2" cy="864.6" r="7.5" fill="url(#cu)"/>
<circle cx="306.2" cy="863.8" r="8.2" fill="url(#cu)"/>
<circle cx="320.8" cy="863.8" r="8.2" fill="url(#cu)"/>
<circle cx="320.8" cy="864.6" r="3.5" fill="url(#ox)"/>
<circle cx="314.6" cy="876.2" r="8.2" fill="url(#cu)"/>
<circle cx="330.0" cy="875.4" r="8.2" fill="url(#cu)"/>
</g>
<g filter="url(#sf)">
<polygon points="347.6,800.8 349.4,794.6 351.2,788.4 358.0,781.0 379.8,776 383.8,777.9 390.3,786.1 403.3,803.3 357.2,815.8" fill="#c85a00" stroke="#c85a00" stroke-width="7" stroke-linejoin="round"/>
<circle cx="356.0" cy="777.0" r="2.8" fill="url(#ox)"/>
<circle cx="382.0" cy="773.0" r="2.8" fill="url(#ox)"/>
<circle cx="393.0" cy="779.0" r="2.8" fill="url(#ox)"/>
<circle cx="408.0" cy="797.0" r="3" fill="url(#ox)"/>
<circle cx="343.0" cy="798.0" r="2.8" fill="url(#ox)"/>
<circle cx="355.0" cy="818.0" r="3" fill="url(#ox)"/>
<circle cx="362.0" cy="820.0" r="2.8" fill="url(#ox)"/>
<circle cx="349.0" cy="812.0" r="2.6" fill="url(#ox)"/>
<circle cx="358.0" cy="781.0" r="3.8" fill="url(#cd)"/>
<circle cx="361.2" cy="786.0" r="3.8" fill="url(#cd)"/>
<circle cx="356.2" cy="787.2" r="3.8" fill="url(#cd)"/>
<circle cx="351.2" cy="788.4" r="3.8" fill="url(#cd)"/>
<circle cx="359.4" cy="792.2" r="3.8" fill="url(#cd)"/>
<circle cx="354.4" cy="793.4" r="3.8" fill="url(#cd)"/>
<circle cx="349.4" cy="794.6" r="3.8" fill="url(#cd)"/>
<circle cx="357.6" cy="798.4" r="3.8" fill="url(#cd)"/>
<circle cx="352.6" cy="799.6" r="3.8" fill="url(#cd)"/>
<circle cx="347.6" cy="800.8" r="3.8" fill="url(#cd)"/>
<circle cx="360.8" cy="803.4" r="3.8" fill="url(#cd)"/>
<circle cx="355.8" cy="804.6" r="3.8" fill="url(#cd)"/>
<circle cx="350.8" cy="805.8" r="3.8" fill="url(#cd)"/>
<circle cx="359.0" cy="809.6" r="3.8" fill="url(#cd)"/>
<circle cx="354.0" cy="810.8" r="3.8" fill="url(#cd)"/>
<circle cx="357.2" cy="815.8" r="3.8" fill="url(#cd)"/>
<circle cx="360.6" cy="780.6" r="4.8" fill="url(#cd)"/>
<circle cx="370.6" cy="778.3" r="4.8" fill="url(#cd)"/>
<circle cx="379.8" cy="776.0" r="4.8" fill="url(#cd)"/>
<circle cx="362.9" cy="812.9" r="5.8" fill="url(#cu)"/>
<circle cx="373.0" cy="810.5" r="5.8" fill="url(#cu)"/>
<circle cx="383.1" cy="808.1" r="5.8" fill="url(#cu)"/>
<circle cx="393.2" cy="805.7" r="5.8" fill="url(#cu)"/>
<circle cx="403.3" cy="803.3" r="5.8" fill="url(#cu)"/>
<circle cx="366.5" cy="801.9" r="5.8" fill="url(#cu)"/>
<circle cx="376.6" cy="799.5" r="5.8" fill="url(#cu)"/>
<circle cx="386.7" cy="797.1" r="5.8" fill="url(#cu)"/>
<circle cx="396.8" cy="794.7" r="5.8" fill="url(#cu)"/>
<circle cx="370.1" cy="790.9" r="5.8" fill="url(#cu)"/>
<circle cx="380.2" cy="788.5" r="5.8" fill="url(#cu)"/>
<circle cx="390.3" cy="786.1" r="5.8" fill="url(#cu)"/>
<circle cx="373.7" cy="780.3" r="5.8" fill="url(#cu)"/>
<circle cx="383.8" cy="777.9" r="5.8" fill="url(#cu)"/>
<circle cx="378.0" cy="792.0" r="2.6" fill="url(#ox)"/>
<circle cx="372.0" cy="800.0" r="2.6" fill="url(#ox)"/>
<circle cx="388.0" cy="797.0" r="2.6" fill="url(#ox)"/>
<circle cx="382.0" cy="806.0" r="2.6" fill="url(#ox)"/>
<circle cx="395.0" cy="800.0" r="2.6" fill="url(#ox)"/>
</g>
<g filter="url(#sf)">
<polygon points="393.8,741.1 412.8,725 423.7,717 441.3,736 449.3,746.9 431.8,763 418.6,771.8" fill="#c85a00" stroke="#c85a00" stroke-width="7" stroke-linejoin="round"/>
<circle cx="430.0" cy="713.0" r="2.8" fill="url(#ox)"/>
<circle cx="396.0" cy="755.0" r="3" fill="url(#ox)"/>
<circle cx="414.0" cy="772.0" r="3" fill="url(#ox)"/>
<circle cx="421.0" cy="772.0" r="3" fill="url(#ox)"/>
<circle cx="447.0" cy="752.0" r="3" fill="url(#ox)"/>
<circle cx="455.0" cy="745.0" r="3" fill="url(#ox)"/>
<circle cx="404.0" cy="752.8" r="5.5" fill="url(#cd)"/>
<circle cx="412.8" cy="757.2" r="5.5" fill="url(#cd)"/>
<circle cx="421.5" cy="760.1" r="5.5" fill="url(#cd)"/>
<circle cx="430.3" cy="756.4" r="5.5" fill="url(#cd)"/>
<circle cx="440.6" cy="754.2" r="5.5" fill="url(#cd)"/>
<circle cx="414.2" cy="764.5" r="5.2" fill="url(#cd)"/>
<circle cx="423.0" cy="767.4" r="5.2" fill="url(#cd)"/>
<circle cx="431.8" cy="763.0" r="5.2" fill="url(#cd)"/>
<circle cx="418.6" cy="771.8" r="4.5" fill="url(#cd)"/>
<circle cx="425.0" cy="762.0" r="2.8" fill="url(#ox)"/>
<circle cx="436.0" cy="760.0" r="2.8" fill="url(#ox)"/>
<circle cx="416.0" cy="760.0" r="2.6" fill="url(#ox)"/>
<circle cx="408.0" cy="765.0" r="2.6" fill="url(#ox)"/>
<circle cx="423.7" cy="717.0" r="6.8" fill="url(#cu)"/>
<circle cx="412.8" cy="725.0" r="6.5" fill="url(#cu)"/>
<circle cx="432.5" cy="726.5" r="6.5" fill="url(#cu)"/>
<circle cx="423.0" cy="728.0" r="7" fill="url(#cu)"/>
<circle cx="404.0" cy="733.0" r="6.3" fill="url(#cu)"/>
<circle cx="441.3" cy="736.0" r="6.5" fill="url(#cu)"/>
<circle cx="412.0" cy="735.2" r="6.8" fill="url(#cu)"/>
<circle cx="431.8" cy="737.4" r="7" fill="url(#cu)"/>
<circle cx="420.8" cy="738.9" r="7.3" fill="url(#cu)"/>
<circle cx="393.8" cy="741.1" r="6.2" fill="url(#cu)"/>
<circle cx="449.3" cy="746.9" r="6.2" fill="url(#cu)"/>
<circle cx="401.8" cy="743.3" r="6.5" fill="url(#cu)"/>
<circle cx="439.8" cy="747.7" r="6.8" fill="url(#cu)"/>
<circle cx="409.9" cy="747.7" r="6.8" fill="url(#cu)"/>
<circle cx="430.3" cy="749.1" r="7" fill="url(#cu)"/>
<circle cx="419.4" cy="751.3" r="7.3" fill="url(#cu)"/>
<circle cx="437.0" cy="726.0" r="2.8" fill="url(#ox)"/>
<circle cx="407.0" cy="737.0" r="2.8" fill="url(#ox)"/>
<circle cx="432.0" cy="750.0" r="2.8" fill="url(#ox)"/>
<circle cx="455.0" cy="744.0" r="2.8" fill="url(#ox)"/>
</g>
<g filter="url(#sf)">
<polygon points="431.4,672.2 454.0,654.0 458.9,653.4 479.9,678.3 486.9,686.6 475,697 463,700 451,702 438.5,704" fill="#c85a00" stroke="#c85a00" stroke-width="7" stroke-linejoin="round"/>
<circle cx="464.3" cy="650.1" r="2.8" fill="url(#ox)"/>
<circle cx="470.0" cy="657.2" r="2.8" fill="url(#ox)"/>
<circle cx="476.5" cy="663.0" r="2.8" fill="url(#ox)"/>
<circle cx="482.2" cy="672.5" r="2.8" fill="url(#ox)"/>
<circle cx="491.0" cy="684.0" r="3" fill="url(#ox)"/>
<circle cx="489.5" cy="689.5" r="2.8" fill="url(#ox)"/>
<circle cx="431.0" cy="675.4" r="2.8" fill="url(#ox)"/>
<circle cx="436.0" cy="684.7" r="2.8" fill="url(#ox)"/>
<circle cx="436.8" cy="699.0" r="3" fill="url(#ox)"/>
<circle cx="448.2" cy="703.2" r="3" fill="url(#ox)"/>
<circle cx="456.7" cy="706.0" r="3" fill="url(#ox)"/>
<circle cx="471.0" cy="699.0" r="3" fill="url(#ox)"/>
<circle cx="481.0" cy="695.0" r="2.8" fill="url(#ox)"/>
<circle cx="454.0" cy="654.0" r="4.2" fill="url(#cd)"/>
<circle cx="449.9" cy="664.8" r="4.2" fill="url(#cd)"/>
<circle cx="444.4" cy="667.3" r="4.2" fill="url(#cd)"/>
<circle cx="438.9" cy="669.8" r="4.2" fill="url(#cd)"/>
<circle cx="433.4" cy="672.3" r="4.2" fill="url(#cd)"/>
<circle cx="451.3" cy="673.1" r="4.2" fill="url(#cd)"/>
<circle cx="445.8" cy="675.6" r="4.2" fill="url(#cd)"/>
<circle cx="440.3" cy="678.1" r="4.2" fill="url(#cd)"/>
<circle cx="434.8" cy="680.6" r="4.2" fill="url(#cd)"/>
<circle cx="447.2" cy="683.9" r="4.2" fill="url(#cd)"/>
<circle cx="441.7" cy="686.4" r="4.2" fill="url(#cd)"/>
<circle cx="436.2" cy="688.9" r="4.2" fill="url(#cd)"/>
<circle cx="443.1" cy="694.7" r="4.2" fill="url(#cd)"/>
<circle cx="438.5" cy="704.0" r="4.5" fill="url(#cd)"/>
<circle cx="451.0" cy="702.0" r="4.5" fill="url(#cd)"/>
<circle cx="463.0" cy="700.0" r="4.5" fill="url(#cd)"/>
<circle cx="475.0" cy="697.0" r="4.5" fill="url(#cd)"/>
<circle cx="453.0" cy="655.0" r="4.0" fill="url(#cd)"/>
<circle cx="447.6" cy="659.3" r="4.0" fill="url(#cd)"/>
<circle cx="442.2" cy="663.6" r="4.0" fill="url(#cd)"/>
<circle cx="436.8" cy="667.9" r="4.0" fill="url(#cd)"/>
<circle cx="431.4" cy="672.2" r="4.0" fill="url(#cd)"/>
<circle cx="452.0" cy="651.0" r="2.4" fill="url(#ox)"/>
<circle cx="446.6" cy="655.3" r="2.4" fill="url(#ox)"/>
<circle cx="441.2" cy="659.6" r="2.4" fill="url(#ox)"/>
<circle cx="435.8" cy="663.9" r="2.4" fill="url(#ox)"/>
<circle cx="430.4" cy="668.2" r="2.4" fill="url(#ox)"/>
<circle cx="458.9" cy="653.4" r="5.6" fill="url(#cu)"/>
<circle cx="455.0" cy="663.9" r="5.6" fill="url(#cu)"/>
<circle cx="465.9" cy="661.7" r="5.6" fill="url(#cu)"/>
<circle cx="451.1" cy="674.4" r="5.6" fill="url(#cu)"/>
<circle cx="462.0" cy="672.2" r="5.6" fill="url(#cu)"/>
<circle cx="472.9" cy="670.0" r="5.6" fill="url(#cu)"/>
<circle cx="447.2" cy="684.9" r="5.6" fill="url(#cu)"/>
<circle cx="458.1" cy="682.7" r="5.6" fill="url(#cu)"/>
<circle cx="469.0" cy="680.5" r="5.6" fill="url(#cu)"/>
<circle cx="479.9" cy="678.3" r="5.6" fill="url(#cu)"/>
<circle cx="443.3" cy="695.4" r="5.6" fill="url(#cu)"/>
<circle cx="454.2" cy="693.2" r="5.6" fill="url(#cu)"/>
<circle cx="465.1" cy="691.0" r="5.6" fill="url(#cu)"/>
<circle cx="476.0" cy="688.8" r="5.6" fill="url(#cu)"/>
<circle cx="486.9" cy="686.6" r="5.6" fill="url(#cu)"/>
</g>
<line x1="121.5" y1="358.9" x2="146.2" y2="373.8" stroke="#505050" stroke-width="1.5" marker-end="url(#ah)"/>
<line x1="174.6" y1="301.5" x2="190.2" y2="329.1" stroke="#505050" stroke-width="1.5" marker-end="url(#ah)"/>
<line x1="209.2" y1="269.2" x2="231.5" y2="283.8" stroke="#505050" stroke-width="1.5" marker-end="url(#ah)"/>
<line x1="260" y1="226.2" x2="270.8" y2="246.2" stroke="#505050" stroke-width="1.5" marker-end="url(#ah)"/>
<line x1="320.5" y1="273.4" x2="291.5" y2="260.4" stroke="#505050" stroke-width="1.5" marker-end="url(#ah)"/>
<line x1="260.4" y1="328.8" x2="230.1" y2="314.4" stroke="#505050" stroke-width="1.5" marker-end="url(#ah)"/>
<line x1="226.2" y1="375.5" x2="201" y2="354.7" stroke="#505050" stroke-width="1.5" marker-end="url(#ah)"/>
<line x1="143.3" y1="851.5" x2="171.8" y2="870.6" stroke="#505050" stroke-width="1.5" marker-end="url(#ah)"/>
<line x1="198.8" y1="816.5" x2="222.3" y2="838.8" stroke="#505050" stroke-width="1.5" marker-end="url(#ah)"/>
<line x1="248.1" y1="772.3" x2="270.4" y2="792.3" stroke="#505050" stroke-width="1.5" marker-end="url(#ah)"/>
<line x1="292.3" y1="846.2" x2="264" y2="825.5" stroke="#505050" stroke-width="1.5" marker-end="url(#ah)"/>
<line x1="345" y1="783.5" x2="318" y2="764" stroke="#505050" stroke-width="1.5" marker-end="url(#ah)"/>
<line x1="380" y1="740.7" x2="354" y2="728" stroke="#505050" stroke-width="1.5" marker-end="url(#ah)"/>
<line x1="423" y1="685.8" x2="391" y2="686.3" stroke="#505050" stroke-width="1.5" marker-end="url(#ah)"/>
<circle cx="150.8" cy="373.8" r="3.35" fill="#fff" stroke="#1c1cd8" stroke-width="2.8"/>
<circle cx="194.0" cy="334.9" r="3.35" fill="#fff" stroke="#1c1cd8" stroke-width="2.8"/>
<circle cx="194.0" cy="348.1" r="3.35" fill="#fff" stroke="#1c1cd8" stroke-width="2.8"/>
<circle cx="222.7" cy="291.0" r="3.35" fill="#fff" stroke="#1c1cd8" stroke-width="2.8"/>
<circle cx="222.7" cy="299.4" r="3.35" fill="#fff" stroke="#1c1cd8" stroke-width="2.8"/>
<circle cx="222.7" cy="312.7" r="3.35" fill="#fff" stroke="#1c1cd8" stroke-width="2.8"/>
<circle cx="237.5" cy="290.6" r="3.35" fill="#fff" stroke="#1c1cd8" stroke-width="2.8"/>
<circle cx="236.3" cy="306.0" r="3.35" fill="#fff" stroke="#1c1cd8" stroke-width="2.8"/>
<circle cx="243.8" cy="299.8" r="3.35" fill="#fff" stroke="#1c1cd8" stroke-width="2.8"/>
<circle cx="248.1" cy="301.1" r="3.35" fill="#fff" stroke="#1c1cd8" stroke-width="2.8"/>
<circle cx="264.5" cy="288.7" r="3.35" fill="#fff" stroke="#1c1cd8" stroke-width="2.8"/>
<circle cx="271.2" cy="252.9" r="3.35" fill="#fff" stroke="#1c1cd8" stroke-width="2.8"/>
<circle cx="271.2" cy="260.1" r="3.35" fill="#fff" stroke="#1c1cd8" stroke-width="2.8"/>
<circle cx="282.9" cy="254.8" r="3.35" fill="#fff" stroke="#1c1cd8" stroke-width="2.8"/>
<circle cx="287.9" cy="260.1" r="3.35" fill="#fff" stroke="#1c1cd8" stroke-width="2.8"/>
<circle cx="296.3" cy="237.7" r="3.35" fill="#fff" stroke="#1c1cd8" stroke-width="2.8"/>
<circle cx="296.3" cy="246.3" r="3.35" fill="#fff" stroke="#1c1cd8" stroke-width="2.8"/>
<circle cx="296.3" cy="252.4" r="3.35" fill="#fff" stroke="#1c1cd8" stroke-width="2.8"/>
<circle cx="179.6" cy="875.8" r="3.8" fill="#fff" stroke="#1c1cd8" stroke-width="2.1"/>
<circle cx="228.5" cy="845.1" r="3.8" fill="#fff" stroke="#1c1cd8" stroke-width="2.1"/>
<circle cx="248.7" cy="811.2" r="3.8" fill="#fff" stroke="#1c1cd8" stroke-width="2.1"/>
<circle cx="256.2" cy="818.7" r="3.8" fill="#fff" stroke="#1c1cd8" stroke-width="2.1"/>
<circle cx="278.1" cy="800.8" r="3.8" fill="#fff" stroke="#1c1cd8" stroke-width="2.1"/>
<circle cx="299.2" cy="771.2" r="3.8" fill="#fff" stroke="#1c1cd8" stroke-width="2.1"/>
<circle cx="305.0" cy="767.7" r="3.8" fill="#fff" stroke="#1c1cd8" stroke-width="2.1"/>
<circle cx="305.0" cy="775.2" r="3.8" fill="#fff" stroke="#1c1cd8" stroke-width="2.1"/>
<circle cx="311.9" cy="757.3" r="3.8" fill="#fff" stroke="#1c1cd8" stroke-width="2.1"/>
<circle cx="313.7" cy="759.4" r="3.8" fill="#fff" stroke="#1c1cd8" stroke-width="2.1"/>
<circle cx="322.5" cy="754.1" r="3.8" fill="#fff" stroke="#1c1cd8" stroke-width="2.1"/>
<circle cx="324.0" cy="734.8" r="3.8" fill="#fff" stroke="#1c1cd8" stroke-width="2.1"/>
<circle cx="329.8" cy="736.5" r="3.8" fill="#fff" stroke="#1c1cd8" stroke-width="2.1"/>
<circle cx="329.2" cy="743.7" r="3.8" fill="#fff" stroke="#1c1cd8" stroke-width="2.1"/>
<circle cx="342.8" cy="729.3" r="3.8" fill="#fff" stroke="#1c1cd8" stroke-width="2.1"/>
<circle cx="346.2" cy="726.0" r="3.8" fill="#fff" stroke="#1c1cd8" stroke-width="2.1"/>
<circle cx="360.3" cy="703.7" r="3.8" fill="#fff" stroke="#1c1cd8" stroke-width="2.1"/>
<circle cx="362.0" cy="706.4" r="3.8" fill="#fff" stroke="#1c1cd8" stroke-width="2.1"/>
<circle cx="375.1" cy="683.6" r="3.8" fill="#fff" stroke="#1c1cd8" stroke-width="2.1"/>
<circle cx="376.8" cy="681.3" r="3.8" fill="#fff" stroke="#1c1cd8" stroke-width="2.1"/>
<rect x="517" y="470" width="3" height="30" fill="#fff"/>
</svg></body></html>
